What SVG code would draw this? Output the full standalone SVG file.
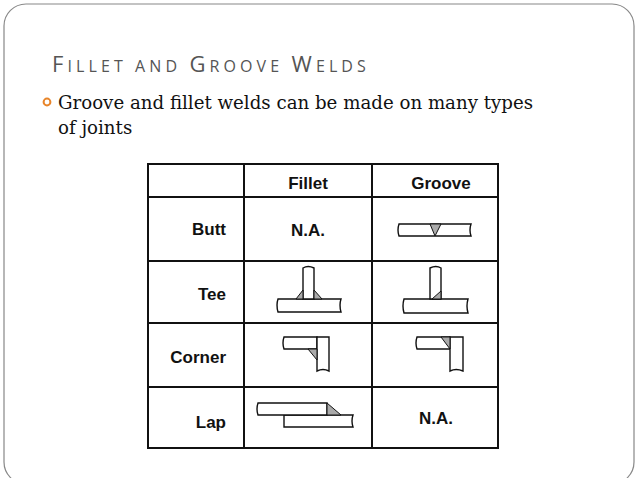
<svg xmlns="http://www.w3.org/2000/svg" width="638" height="478" viewBox="0 0 638 478">
<style>
.lbl{font-family:"Liberation Sans",Arial,sans-serif;font-weight:bold;font-size:17px;fill:#111}
.g{fill:#fff;stroke:#111;stroke-width:1.4}
.w{fill:#aaa;stroke:#111;stroke-width:1}
.grid{stroke:#111;stroke-width:2;fill:none}
</style>
<rect x="4" y="4" width="630" height="480" rx="22" fill="#fff" stroke="#888" stroke-width="1.2"/>
<g id="title"><text x="52" y="72" font-family="'Open Sans','DejaVu Sans',sans-serif" font-size="22" fill="#555" letter-spacing="4.1">F<tspan font-size="16">ILLET AND </tspan>G<tspan font-size="16">ROOVE </tspan>W<tspan font-size="16">ELDS</tspan></text></g>
<g id="bullet">
<circle cx="47" cy="102" r="3.4" fill="none" stroke="#e8852a" stroke-width="2"/>
<text font-family="'DejaVu Serif',serif" font-size="18.2" fill="#111"><tspan x="58" y="109">Groove and fillet welds can be made on many types</tspan><tspan x="58" y="134">of joints</tspan></text>
</g>
<g id="table">
<rect x="148" y="164" width="350" height="284" class="grid"/>
<path class="grid" d="M244 164V448M372 164V448M148 197H498M148 261H498M148 323H498M148 387H498"/>
<text class="lbl" x="308" y="189" text-anchor="middle">Fillet</text>
<text class="lbl" x="441" y="189" text-anchor="middle">Groove</text>
<text class="lbl" x="226" y="235" text-anchor="end">Butt</text>
<text class="lbl" x="226" y="300" text-anchor="end">Tee</text>
<text class="lbl" x="226" y="363" text-anchor="end">Corner</text>
<text class="lbl" x="226" y="428" text-anchor="end">Lap</text>
<text class="lbl" x="308" y="236" text-anchor="middle">N.A.</text>
<text class="lbl" x="436" y="424" text-anchor="middle">N.A.</text>
</g>
<g id="butt-groove">
<path class="g" d="M399 224H471Q469 230 471 236H399Q397 230 399 224Z"/>
<path class="w" d="M430 224H441L435 236Z"/>
</g>
<g id="tee-fillet">
<path class="g" d="M278 299H341Q339 305 341 312H278Q276 305 278 299Z"/>
<path class="g" d="M303 299V268Q308 265 314 268V299Z"/>
<path class="w" d="M296 299H303V290Z"/><path class="w" d="M314 290V299H322Z"/>
</g>
<g id="tee-groove">
<path class="g" d="M404 299H468Q466 306 468 313H404Q402 306 404 299Z"/>
<path class="g" d="M430 299V268Q436 265 441 268V299Z"/>
<path class="w" d="M432 299H441V291Z"/>
</g>
<g id="corner-fillet">
<path class="g" d="M284 337H317V349H284Q282 343 284 337Z"/>
<path class="g" d="M317 337H329V371Q323 368 317 371Z"/>
<path class="w" d="M308 349H317V360Z"/>
</g>
<g id="corner-groove">
<path class="g" d="M417 337H450V349H417Q415 343 417 337Z"/>
<path class="g" d="M450 337H463V371Q456 368 450 371Z"/>
<path class="w" d="M441 337H450V349Z"/>
</g>
<g id="lap-fillet">
<path class="g" d="M284 415H353Q351 421 353 427H284Z"/>
<path class="g" d="M258 403H327V415H258Q256 409 258 403Z"/>
<path class="w" d="M327 403V415H341Z"/>
</g>
</svg>
